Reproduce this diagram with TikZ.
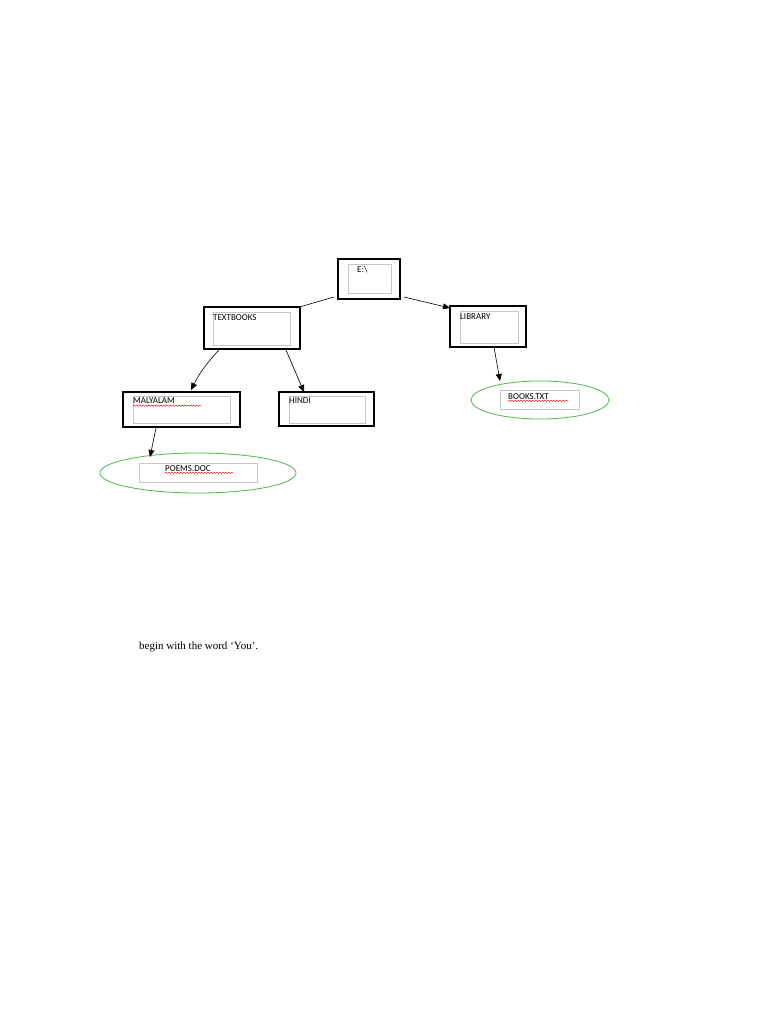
\documentclass[tikz,border=0pt]{standalone}
\usepackage{fontspec}
\setmainfont{Liberation Serif}
\newfontfamily\labelfont{Carlito}
\usetikzlibrary{positioning,calc,arrows.meta,shapes.geometric,decorations.pathmorphing}
\begin{document}
\begin{tikzpicture}[x=1pt,y=-1pt,
    folder/.style={draw, line width=1.1pt, inner sep=0pt},
    inbox/.style={draw=gray!45, line width=0.5pt, inner sep=0pt},
    filering/.style={draw=green!60!black!70, line width=0.8pt, ellipse, inner sep=0pt},
    lbl/.style={font=\labelfont\fontsize{9}{10}\selectfont, anchor=north west, inner sep=0pt},
    arr/.style={-{Triangle[length=7pt,width=6pt]}, line width=0.6pt},
    squig/.style={draw=red, line width=0.4pt, decorate, decoration={snake, amplitude=0.7pt, segment length=3pt}}]
    \useasboundingbox (0,0) rectangle (768,1024);
    \fill[white] (0,0) rectangle (768,1024);

    % Folders
    \draw[folder] (338,259) rectangle (400,299); \draw[inbox] (348,264) rectangle (391,293);
    \node[lbl] (root) at (357,266) {E:\textbackslash};
    \draw[folder] (204,307) rectangle (300,349); \draw[inbox] (213,312) rectangle (290,345);
    \node[lbl] (textbooks) at (213,314) {TEXTBOOKS};
    \draw[folder] (450,306) rectangle (526,347); \draw[inbox] (460,311) rectangle (518,343);
    \node[lbl] (library) at (460,314) {LIBRARY};
    \draw[folder] (123,392) rectangle (240,427); \draw[inbox] (133,396) rectangle (230,423);
    \node[lbl] (malyalam) at (133,398) {MALYALAM};
    \draw[folder] (279,392) rectangle (374,426); \draw[inbox] (289,396) rectangle (365,423);
    \node[lbl] (hindi) at (289,398) {HINDI};

    % Files
    \node[filering, minimum width=138pt, minimum height=38pt] (booksring) at (540,400) {};
    \draw[inbox] (500,390) rectangle (579,409);
    \node[lbl] (books) at (508,393) {BOOKS.TXT};
    \node[filering, minimum width=196pt, minimum height=40pt] (poemsring) at (198,473) {};
    \draw[inbox] (139,463) rectangle (257,482);
    \node[lbl] (poems) at (165,465) {POEMS.DOC};

    % spelling marks
    \draw[squig] (malyalam.south west) ++(0,1.5) -- ++(68,0);
    \draw[squig] (books.south west) ++(0,1.5) -- ++(60,0);
    \draw[squig] (poems.south west) ++(0,1.5) -- ++(68,0);

    % Links
    \coordinate (r1) at (334,297); \coordinate (t1) at (296,308);
    \draw[line width=0.6pt] (r1) -- (t1);
    \coordinate (r2) at (404,297); \coordinate (l1) at (450,308);
    \draw[arr] (r2) -- (l1);
    \coordinate (t2) at (219,350); \coordinate (m1) at (191,390);
    \draw[arr] (t2) to[bend right=8] (m1);
    \coordinate (t3) at (286,350); \coordinate (h1) at (304,392);
    \draw[arr] (t3) -- (h1);
    \coordinate (l2) at (494,347); \coordinate (b1) at (500,381);
    \draw[arr] (l2) -- (b1);
    \coordinate (m2) at (156,428); \coordinate (p1) at (150,457);
    \draw[arr] (m2) -- (p1);

    \node[anchor=west, inner sep=0pt, font=\fontsize{11}{13}\selectfont] (note) at (139,647) {begin with the word ‘You’.};
\end{tikzpicture}
\end{document}
